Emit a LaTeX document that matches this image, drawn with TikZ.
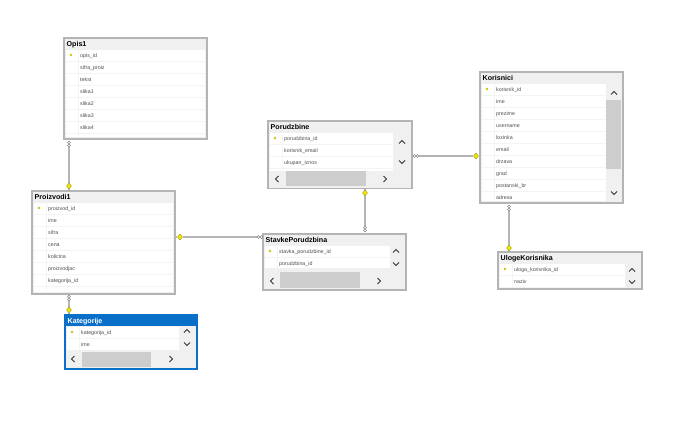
\documentclass[tikz,border=0pt]{standalone}
\usepackage{fontspec}
\setmainfont{Liberation Sans}
\usetikzlibrary{shapes.geometric,backgrounds}
\definecolor{framegray}{HTML}{B4B4B4}
\definecolor{panelgray}{HTML}{F0F0F0}
\definecolor{thumbgray}{HTML}{CDCDCD}
\definecolor{rowline}{HTML}{F4F4F4}
\definecolor{rowtext}{HTML}{505050}
\definecolor{selblue}{HTML}{0A6FC8}
\definecolor{keyyellow}{HTML}{F2E600}
\tikzset{
	dbframe/.style={draw=framegray,fill=panelgray,line width=1.5pt,inner sep=0pt,outer sep=0pt},
	dbtitle/.style={inner sep=0pt,font=\fontsize{7.1}{8}\selectfont\bfseries},
	dbrow/.style={inner sep=0pt,font=\fontsize{5.3}{6}\selectfont,text=rowtext},
	keyicon/.style={diamond,fill=keyyellow!85!black,inner sep=0pt,minimum size=3pt},
	keymark/.style={diamond,draw=olive,fill=keyyellow,line width=0.3pt,inner sep=0pt,minimum width=5pt,minimum height=6pt},
	relline/.style={draw=framegray,line width=1.5pt},
	chev/.style={draw=black!80,line width=0.9pt},
	pics/chevup/.style={code={\draw[chev] (-3,1.5) -- (0,-1.5) -- (3,1.5);}},
	pics/chevdown/.style={code={\draw[chev] (-3,-1.5) -- (0,1.5) -- (3,-1.5);}},
	pics/chevleft/.style={code={\draw[chev] (1.5,-3) -- (-1.5,0) -- (1.5,3);}},
	pics/chevright/.style={code={\draw[chev] (-1.5,-3) -- (1.5,0) -- (-1.5,3);}},
	pics/infv/.style={code={\draw[black!45,line width=0.4pt,fill=white] (0,-1.5) circle (1.5) (0,1.5) circle (1.5);}},
	pics/infh/.style={code={\draw[black!45,line width=0.4pt,fill=white] (-1.5,0) circle (1.5) (1.5,0) circle (1.5);}},
}
\newcommand{\framecol}{framegray}
\newcommand{\stripcol}{panelgray}
\newcommand{\titlecol}{black}
% name, left, top, width, height, title, rows
\newcommand{\dbtable}[7]{
	\node[dbframe,draw=\framecol,anchor=north west,minimum width=#4pt,minimum height=#5pt] (#1) at (#2,#3) {};
	\fill[\stripcol] ([shift={(0.7,0.7)}]#1.north west) rectangle ([shift={(-0.7,11)}]#1.north east);
	\fill[white] ([shift={(2,12)}]#1.north west) rectangle ([shift={(-2,-2)}]#1.south east);
	\begin{scope}
		\clip ([shift={(2,12)}]#1.north west) rectangle ([shift={(-2,-2)}]#1.south east);
		\draw[rowline,line width=0.4pt] ([shift={(14,12)}]#1.north west) -- ([shift={(14,0)}]#1.south west);
		\foreach \rowname [count=\i] in {#7} {
			\node[dbrow,anchor=base west] (#1-\i) at ([shift={(16,{7+12*\i})}]#1.north west) {\rowname};
			\draw[rowline,line width=0.4pt] ([shift={(0,{11+12*\i})}]#1.north west) -- ([shift={(#4,{11+12*\i})}]#1.north west);
		}
	\end{scope}
	\node[keyicon] (#1-key) at ([shift={(7,17)}]#1.north west) {};
	\node[dbtitle,anchor=base west,text=\titlecol] (#1-title) at ([shift={(2.5,8.8)}]#1.north west) {#6};
}
\begin{document}
\begin{tikzpicture}[x=1pt,y=-1pt]
	\useasboundingbox (0,0) rectangle (680,434);

	\dbtable{opis}{64}{38}{143}{101}{Opis1}{opis\_id,sifra\_proiz,tekst,slika1,slika2,slika3,slika4}
	\dbtable{proizvodi}{32}{191}{143}{103}{Proizvodi1}{proizvod\_id,ime,sifra,cena,kolicina,proizvodjac,kategorija\_id}
	\begin{scope}
		\renewcommand{\framecol}{selblue}
		\renewcommand{\stripcol}{selblue}
		\renewcommand{\titlecol}{white}
		\dbtable{kategorije}{65}{315}{132}{54}{Kategorije}{kategorija\_id,ime}
	\end{scope}
	\dbtable{porudzbine}{268}{121}{144}{67}{Porudzbine}{porudzbina\_id,korisnik\_email,ukupan\_iznos}
	\dbtable{stavke}{263}{234}{143}{56}{StavkePorudzbina}{stavka\_porudzbine\_id,porudzbina\_id}
	\dbtable{korisnici}{480}{72}{143}{131}{Korisnici}{korisnik\_id,ime,prezime,username,lozinka,email,drzava,grad,postanski\_br,adresa}
	\dbtable{uloge}{498}{252}{144}{37}{UlogeKorisnika}{uloga\_korisnika\_id,naziv}

	% scroll bars
	\fill[panelgray] (393,133) rectangle (411,188);
	\fill[panelgray] (269,171) rectangle (411,188);
	\fill[thumbgray] (286,171) rectangle (366,186);
	\pic at (402,142) {chevup};
	\pic at (402,162) {chevdown};
	\pic at (277,179) {chevleft};
	\pic at (385,179) {chevright};

	\fill[panelgray] (390,246) rectangle (405,289);
	\fill[panelgray] (264,268) rectangle (405,289);
	\fill[thumbgray] (280,272) rectangle (360,288);
	\pic at (396,251) {chevup};
	\pic at (396,264) {chevdown};
	\pic at (272,281) {chevleft};
	\pic at (379,281) {chevright};

	\fill[panelgray] (179,327) rectangle (196,368);
	\fill[panelgray] (66,350) rectangle (196,368);
	\fill[thumbgray] (82,352) rectangle (151,367);
	\pic at (187,331) {chevup};
	\pic at (187,344) {chevdown};
	\pic at (73,359) {chevleft};
	\pic at (171,359) {chevright};

	\fill[panelgray] (606,84) rectangle (622,202);
	\fill[thumbgray] (606,100) rectangle (621,169);
	\pic at (614,93) {chevup};
	\pic at (614,193) {chevdown};

	\fill[panelgray] (625,264) rectangle (641,288);
	\pic at (632,270) {chevup};
	\pic at (632,282) {chevdown};

	% relations
	\coordinate (opis-inf) at (69,144);
	\coordinate (proizvodi-inf) at (69,298);
	\coordinate (stavke-inf) at (260,237);
	\coordinate (porudzbine-inf) at (416,156);
	\coordinate (stavke-inf2) at (365,229);
	\coordinate (korisnici-inf) at (509,208);
	\node[keymark] (proizvodi-top) at (69,186) {};
	\node[keymark] (kategorije-top) at (69,310) {};
	\node[keymark] (proizvodi-right) at (180,237) {};
	\node[keymark] (korisnici-left) at (476,156) {};
	\node[keymark] (porudzbine-bot) at (365,193) {};
	\node[keymark] (uloge-top) at (509,248) {};
	\begin{scope}[on background layer]
		\draw[relline] (opis-inf) -- (proizvodi-top) -- (proizvodi-top |- proizvodi.north);
		\draw[relline] (proizvodi-inf) -- (kategorije-top) -- (kategorije-top |- kategorije.north);
		\draw[relline] (stavke-inf) -- (proizvodi-right) -- (proizvodi-right -| proizvodi.east);
		\draw[relline] (porudzbine-inf) -- (korisnici-left) -- (korisnici-left -| korisnici.west);
		\draw[relline] (stavke-inf2) -- (porudzbine-bot) -- (porudzbine-bot |- porudzbine.south);
		\draw[relline] (korisnici-inf) -- (uloge-top) -- (uloge-top |- uloge.north);
	\end{scope}
	\pic at (opis-inf) {infv};
	\pic at (proizvodi-inf) {infv};
	\pic at (stavke-inf) {infh};
	\pic at (porudzbine-inf) {infh};
	\pic at (stavke-inf2) {infv};
	\pic at (korisnici-inf) {infv};
\end{tikzpicture}
\end{document}
